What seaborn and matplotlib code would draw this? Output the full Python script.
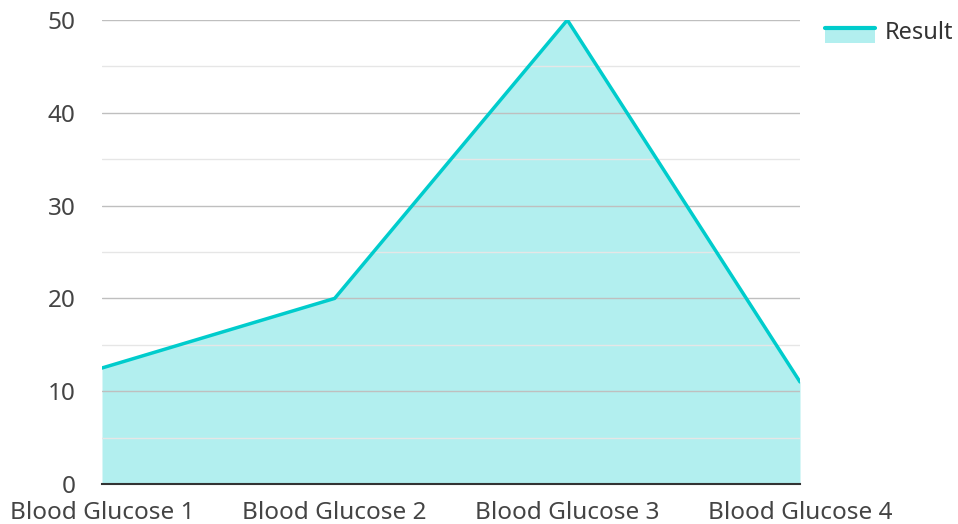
import matplotlib
matplotlib.use("Agg")
import matplotlib.pyplot as plt
import seaborn as sns
import pandas as pd
from matplotlib.legend_handler import HandlerBase
from matplotlib.patches import Rectangle
from matplotlib.lines import Line2D
from matplotlib.ticker import MultipleLocator

categories = ["Blood Glucose 1", "Blood Glucose 2", "Blood Glucose 3", "Blood Glucose 4"]
values = [12.5, 20, 50, 11]
series_name = "Result"

sns.set_theme(style="white")
plt.rcParams['font.family'] = ['Noto Sans', 'DejaVu Sans']

line_color = "#00CCCC"
fill_color = "#B2EFEF"

df = pd.DataFrame({"x": list(range(len(categories))), "y": values})

fig = plt.figure(figsize=(9.58, 5.24), dpi=100)
ax = fig.add_axes([102/958, 1 - 484/524, (800-102)/958, (484-20)/524])

sns.lineplot(data=df, x="x", y="y", ax=ax, color=line_color, linewidth=2.5, zorder=4)
ax.fill_between(df["x"], df["y"], 0, color=fill_color, zorder=2, linewidth=0)

ax.set_xlim(0, len(categories) - 1)
ax.set_ylim(0, 50)
ax.yaxis.set_major_locator(MultipleLocator(10))
ax.yaxis.set_minor_locator(MultipleLocator(5))
ax.grid(which="major", axis="y", color="#bfbfbf", linewidth=1, zorder=3)
ax.grid(which="minor", axis="y", color="#e6e6e6", linewidth=1, zorder=3)
ax.set_axisbelow(False)
ax.set_xticks(range(len(categories)))
ax.set_xticklabels(categories)
ax.set_xlabel("")
ax.set_ylabel("")
for s in ["top", "right", "left"]:
    ax.spines[s].set_visible(False)
ax.spines["bottom"].set_color("#333333")
ax.spines["bottom"].set_linewidth(1.5)
ax.spines["bottom"].set_zorder(5)
ax.tick_params(axis="both", which="both", length=0, labelsize=17.5, colors="#444444")
ax.tick_params(axis="y", pad=19)
ax.tick_params(axis="x", pad=12)


class AreaHandler(HandlerBase):
    def create_artists(self, legend, orig_handle, xdescent, ydescent, width, height, fontsize, trans):
        r = Rectangle((-xdescent, -ydescent - height * 0.25), width, height * 0.95, facecolor=fill_color,
                      edgecolor="none", transform=trans)
        l = Line2D([-xdescent, -xdescent + width], [-ydescent + height * 0.7] * 2,
                   color=line_color, linewidth=3, transform=trans)
        return [r, l]


handle = Rectangle((0, 0), 1, 1)
leg = fig.legend([handle], [series_name], handler_map={Rectangle: AreaHandler()},
                 loc="upper left", bbox_to_anchor=(825/958, 1 - 21/524), frameon=False,
                 fontsize=17, handlelength=2.1, handleheight=0.65, handletextpad=0.45,
                 borderaxespad=0, borderpad=0)
for t in leg.get_texts():
    t.set_color("#333333")

fig.savefig("out.png", dpi=100)
